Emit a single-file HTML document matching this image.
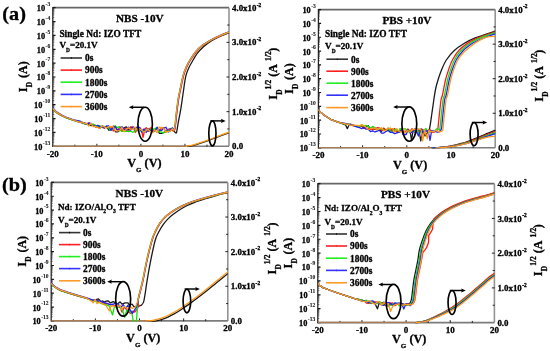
<!DOCTYPE html>
<html><head><meta charset="utf-8"><title>Figure</title>
<style>html,body{margin:0;padding:0;background:#fff;overflow:hidden}svg{display:block;filter:blur(0.4px)}text{stroke:#000;stroke-width:0.3px}</style>
</head><body>
<svg width="550" height="351" viewBox="0 0 550 351" font-family="'Liberation Serif', 'Times New Roman', serif" font-weight="bold" fill="#000">
<rect width="550" height="351" fill="#fff"/>
<defs><clipPath id="cAL"><rect x="52.8" y="4.7" width="176.2" height="142.4"/></clipPath><clipPath id="cAR"><rect x="318.4" y="6.6" width="176.8" height="142"/></clipPath><clipPath id="cBL"><rect x="51.2" y="179.4" width="176.6" height="142.3"/></clipPath><clipPath id="cBR"><rect x="317.8" y="180.7" width="176.6" height="142.7"/></clipPath></defs>
<path d="M52.8,7.7 H229" stroke="#676767" stroke-width="1.7"/>
<path d="M229,7.7 V146.3" stroke="#939393" stroke-width="1.6"/>
<path d="M52.8,146.3 H229" stroke="#7c7c7c" stroke-width="1.6"/>
<path d="M52.8,7.2 V147" stroke="#222" stroke-width="1.25"/>
<path d="M318.4,9.6 H495.2" stroke="#676767" stroke-width="1.7"/>
<path d="M495.2,9.6 V147.8" stroke="#939393" stroke-width="1.6"/>
<path d="M318.4,147.8 H495.2" stroke="#7c7c7c" stroke-width="1.6"/>
<path d="M318.4,9.1 V148.5" stroke="#222" stroke-width="1.25"/>
<path d="M51.2,182.4 H227.8" stroke="#676767" stroke-width="1.7"/>
<path d="M227.8,182.4 V320.9" stroke="#939393" stroke-width="1.6"/>
<path d="M51.2,320.9 H227.8" stroke="#7c7c7c" stroke-width="1.6"/>
<path d="M51.2,181.9 V321.6" stroke="#222" stroke-width="1.25"/>
<path d="M317.8,183.7 H494.4" stroke="#676767" stroke-width="1.7"/>
<path d="M494.4,183.7 V322.6" stroke="#939393" stroke-width="1.6"/>
<path d="M317.8,322.6 H494.4" stroke="#7c7c7c" stroke-width="1.6"/>
<path d="M317.8,183.2 V323.3" stroke="#222" stroke-width="1.25"/>
<path d="M52.8,7.7 h2.7 M52.8,21.56 h2.7 M52.8,35.42 h2.7 M52.8,49.28 h2.7 M52.8,63.14 h2.7 M52.8,77 h2.7 M52.8,90.86 h2.7 M52.8,104.72 h2.7 M52.8,118.58 h2.7 M52.8,132.44 h2.7 M52.8,146.3 h2.7" stroke="#111" stroke-width="1.2" fill="none"/>
<path d="M52.8,17.39 h1.5 M52.8,14.95 h1.5 M52.8,13.22 h1.5 M52.8,11.87 h1.5 M52.8,10.77 h1.5 M52.8,9.85 h1.5 M52.8,9.04 h1.5 M52.8,8.33 h1.5 M52.8,31.25 h1.5 M52.8,28.81 h1.5 M52.8,27.08 h1.5 M52.8,25.73 h1.5 M52.8,24.63 h1.5 M52.8,23.71 h1.5 M52.8,22.9 h1.5 M52.8,22.19 h1.5 M52.8,45.11 h1.5 M52.8,42.67 h1.5 M52.8,40.94 h1.5 M52.8,39.59 h1.5 M52.8,38.49 h1.5 M52.8,37.57 h1.5 M52.8,36.76 h1.5 M52.8,36.05 h1.5 M52.8,58.97 h1.5 M52.8,56.53 h1.5 M52.8,54.8 h1.5 M52.8,53.45 h1.5 M52.8,52.35 h1.5 M52.8,51.43 h1.5 M52.8,50.62 h1.5 M52.8,49.91 h1.5 M52.8,72.83 h1.5 M52.8,70.39 h1.5 M52.8,68.66 h1.5 M52.8,67.31 h1.5 M52.8,66.21 h1.5 M52.8,65.29 h1.5 M52.8,64.48 h1.5 M52.8,63.77 h1.5 M52.8,86.69 h1.5 M52.8,84.25 h1.5 M52.8,82.52 h1.5 M52.8,81.17 h1.5 M52.8,80.07 h1.5 M52.8,79.15 h1.5 M52.8,78.34 h1.5 M52.8,77.63 h1.5 M52.8,100.55 h1.5 M52.8,98.11 h1.5 M52.8,96.38 h1.5 M52.8,95.03 h1.5 M52.8,93.93 h1.5 M52.8,93.01 h1.5 M52.8,92.2 h1.5 M52.8,91.49 h1.5 M52.8,114.41 h1.5 M52.8,111.97 h1.5 M52.8,110.24 h1.5 M52.8,108.89 h1.5 M52.8,107.79 h1.5 M52.8,106.87 h1.5 M52.8,106.06 h1.5 M52.8,105.35 h1.5 M52.8,128.27 h1.5 M52.8,125.83 h1.5 M52.8,124.1 h1.5 M52.8,122.75 h1.5 M52.8,121.65 h1.5 M52.8,120.73 h1.5 M52.8,119.92 h1.5 M52.8,119.21 h1.5 M52.8,142.13 h1.5 M52.8,139.69 h1.5 M52.8,137.96 h1.5 M52.8,136.61 h1.5 M52.8,135.51 h1.5 M52.8,134.59 h1.5 M52.8,133.78 h1.5 M52.8,133.07 h1.5" stroke="#333" stroke-width="0.7" fill="none"/>
<path d="M229.3,128.98 h-2.0 M229.3,111.65 h-2.8 M229.3,94.33 h-2.0 M229.3,77 h-2.8 M229.3,59.67 h-2.0 M229.3,42.35 h-2.8 M229.3,25.02 h-2.0" stroke="#222" stroke-width="1.0" fill="none"/>
<path d="M74.82,146.6 v-2.0 M96.85,146.6 v-2.8 M118.87,146.6 v-2.0 M140.9,146.6 v-2.8 M162.93,146.6 v-2.0 M184.95,146.6 v-2.8 M206.97,146.6 v-2.0" stroke="#222" stroke-width="1.0" fill="none"/>
<path d="M318.4,9.6 h2.7 M318.4,23.42 h2.7 M318.4,37.24 h2.7 M318.4,51.06 h2.7 M318.4,64.88 h2.7 M318.4,78.7 h2.7 M318.4,92.52 h2.7 M318.4,106.34 h2.7 M318.4,120.16 h2.7 M318.4,133.98 h2.7 M318.4,147.8 h2.7" stroke="#111" stroke-width="1.2" fill="none"/>
<path d="M318.4,19.26 h1.5 M318.4,16.83 h1.5 M318.4,15.1 h1.5 M318.4,13.76 h1.5 M318.4,12.67 h1.5 M318.4,11.74 h1.5 M318.4,10.94 h1.5 M318.4,10.23 h1.5 M318.4,33.08 h1.5 M318.4,30.65 h1.5 M318.4,28.92 h1.5 M318.4,27.58 h1.5 M318.4,26.49 h1.5 M318.4,25.56 h1.5 M318.4,24.76 h1.5 M318.4,24.05 h1.5 M318.4,46.9 h1.5 M318.4,44.47 h1.5 M318.4,42.74 h1.5 M318.4,41.4 h1.5 M318.4,40.31 h1.5 M318.4,39.38 h1.5 M318.4,38.58 h1.5 M318.4,37.87 h1.5 M318.4,60.72 h1.5 M318.4,58.29 h1.5 M318.4,56.56 h1.5 M318.4,55.22 h1.5 M318.4,54.13 h1.5 M318.4,53.2 h1.5 M318.4,52.4 h1.5 M318.4,51.69 h1.5 M318.4,74.54 h1.5 M318.4,72.11 h1.5 M318.4,70.38 h1.5 M318.4,69.04 h1.5 M318.4,67.95 h1.5 M318.4,67.02 h1.5 M318.4,66.22 h1.5 M318.4,65.51 h1.5 M318.4,88.36 h1.5 M318.4,85.93 h1.5 M318.4,84.2 h1.5 M318.4,82.86 h1.5 M318.4,81.77 h1.5 M318.4,80.84 h1.5 M318.4,80.04 h1.5 M318.4,79.33 h1.5 M318.4,102.18 h1.5 M318.4,99.75 h1.5 M318.4,98.02 h1.5 M318.4,96.68 h1.5 M318.4,95.59 h1.5 M318.4,94.66 h1.5 M318.4,93.86 h1.5 M318.4,93.15 h1.5 M318.4,116 h1.5 M318.4,113.57 h1.5 M318.4,111.84 h1.5 M318.4,110.5 h1.5 M318.4,109.41 h1.5 M318.4,108.48 h1.5 M318.4,107.68 h1.5 M318.4,106.97 h1.5 M318.4,129.82 h1.5 M318.4,127.39 h1.5 M318.4,125.66 h1.5 M318.4,124.32 h1.5 M318.4,123.23 h1.5 M318.4,122.3 h1.5 M318.4,121.5 h1.5 M318.4,120.79 h1.5 M318.4,143.64 h1.5 M318.4,141.21 h1.5 M318.4,139.48 h1.5 M318.4,138.14 h1.5 M318.4,137.05 h1.5 M318.4,136.12 h1.5 M318.4,135.32 h1.5 M318.4,134.61 h1.5" stroke="#333" stroke-width="0.7" fill="none"/>
<path d="M495.5,130.53 h-2.0 M495.5,113.25 h-2.8 M495.5,95.98 h-2.0 M495.5,78.7 h-2.8 M495.5,61.42 h-2.0 M495.5,44.15 h-2.8 M495.5,26.88 h-2.0" stroke="#222" stroke-width="1.0" fill="none"/>
<path d="M340.5,148.1 v-2.0 M362.6,148.1 v-2.8 M384.7,148.1 v-2.0 M406.8,148.1 v-2.8 M428.9,148.1 v-2.0 M451,148.1 v-2.8 M473.1,148.1 v-2.0" stroke="#222" stroke-width="1.0" fill="none"/>
<path d="M51.2,182.4 h2.7 M51.2,196.25 h2.7 M51.2,210.1 h2.7 M51.2,223.95 h2.7 M51.2,237.8 h2.7 M51.2,251.65 h2.7 M51.2,265.5 h2.7 M51.2,279.35 h2.7 M51.2,293.2 h2.7 M51.2,307.05 h2.7 M51.2,320.9 h2.7" stroke="#111" stroke-width="1.2" fill="none"/>
<path d="M51.2,192.08 h1.5 M51.2,189.64 h1.5 M51.2,187.91 h1.5 M51.2,186.57 h1.5 M51.2,185.47 h1.5 M51.2,184.55 h1.5 M51.2,183.74 h1.5 M51.2,183.03 h1.5 M51.2,205.93 h1.5 M51.2,203.49 h1.5 M51.2,201.76 h1.5 M51.2,200.42 h1.5 M51.2,199.32 h1.5 M51.2,198.4 h1.5 M51.2,197.59 h1.5 M51.2,196.88 h1.5 M51.2,219.78 h1.5 M51.2,217.34 h1.5 M51.2,215.61 h1.5 M51.2,214.27 h1.5 M51.2,213.17 h1.5 M51.2,212.25 h1.5 M51.2,211.44 h1.5 M51.2,210.73 h1.5 M51.2,233.63 h1.5 M51.2,231.19 h1.5 M51.2,229.46 h1.5 M51.2,228.12 h1.5 M51.2,227.02 h1.5 M51.2,226.1 h1.5 M51.2,225.29 h1.5 M51.2,224.58 h1.5 M51.2,247.48 h1.5 M51.2,245.04 h1.5 M51.2,243.31 h1.5 M51.2,241.97 h1.5 M51.2,240.87 h1.5 M51.2,239.95 h1.5 M51.2,239.14 h1.5 M51.2,238.43 h1.5 M51.2,261.33 h1.5 M51.2,258.89 h1.5 M51.2,257.16 h1.5 M51.2,255.82 h1.5 M51.2,254.72 h1.5 M51.2,253.8 h1.5 M51.2,252.99 h1.5 M51.2,252.28 h1.5 M51.2,275.18 h1.5 M51.2,272.74 h1.5 M51.2,271.01 h1.5 M51.2,269.67 h1.5 M51.2,268.57 h1.5 M51.2,267.65 h1.5 M51.2,266.84 h1.5 M51.2,266.13 h1.5 M51.2,289.03 h1.5 M51.2,286.59 h1.5 M51.2,284.86 h1.5 M51.2,283.52 h1.5 M51.2,282.42 h1.5 M51.2,281.5 h1.5 M51.2,280.69 h1.5 M51.2,279.98 h1.5 M51.2,302.88 h1.5 M51.2,300.44 h1.5 M51.2,298.71 h1.5 M51.2,297.37 h1.5 M51.2,296.27 h1.5 M51.2,295.35 h1.5 M51.2,294.54 h1.5 M51.2,293.83 h1.5 M51.2,316.73 h1.5 M51.2,314.29 h1.5 M51.2,312.56 h1.5 M51.2,311.22 h1.5 M51.2,310.12 h1.5 M51.2,309.2 h1.5 M51.2,308.39 h1.5 M51.2,307.68 h1.5" stroke="#333" stroke-width="0.7" fill="none"/>
<path d="M228.1,303.59 h-2.0 M228.1,286.27 h-2.8 M228.1,268.96 h-2.0 M228.1,251.65 h-2.8 M228.1,234.34 h-2.0 M228.1,217.03 h-2.8 M228.1,199.71 h-2.0" stroke="#222" stroke-width="1.0" fill="none"/>
<path d="M73.28,321.2 v-2.0 M95.35,321.2 v-2.8 M117.43,321.2 v-2.0 M139.5,321.2 v-2.8 M161.58,321.2 v-2.0 M183.65,321.2 v-2.8 M205.73,321.2 v-2.0" stroke="#222" stroke-width="1.0" fill="none"/>
<path d="M317.8,183.7 h2.7 M317.8,197.59 h2.7 M317.8,211.48 h2.7 M317.8,225.37 h2.7 M317.8,239.26 h2.7 M317.8,253.15 h2.7 M317.8,267.04 h2.7 M317.8,280.93 h2.7 M317.8,294.82 h2.7 M317.8,308.71 h2.7 M317.8,322.6 h2.7" stroke="#111" stroke-width="1.2" fill="none"/>
<path d="M317.8,193.41 h1.5 M317.8,190.96 h1.5 M317.8,189.23 h1.5 M317.8,187.88 h1.5 M317.8,186.78 h1.5 M317.8,185.85 h1.5 M317.8,185.05 h1.5 M317.8,184.34 h1.5 M317.8,207.3 h1.5 M317.8,204.85 h1.5 M317.8,203.12 h1.5 M317.8,201.77 h1.5 M317.8,200.67 h1.5 M317.8,199.74 h1.5 M317.8,198.94 h1.5 M317.8,198.23 h1.5 M317.8,221.19 h1.5 M317.8,218.74 h1.5 M317.8,217.01 h1.5 M317.8,215.66 h1.5 M317.8,214.56 h1.5 M317.8,213.63 h1.5 M317.8,212.83 h1.5 M317.8,212.12 h1.5 M317.8,235.08 h1.5 M317.8,232.63 h1.5 M317.8,230.9 h1.5 M317.8,229.55 h1.5 M317.8,228.45 h1.5 M317.8,227.52 h1.5 M317.8,226.72 h1.5 M317.8,226.01 h1.5 M317.8,248.97 h1.5 M317.8,246.52 h1.5 M317.8,244.79 h1.5 M317.8,243.44 h1.5 M317.8,242.34 h1.5 M317.8,241.41 h1.5 M317.8,240.61 h1.5 M317.8,239.9 h1.5 M317.8,262.86 h1.5 M317.8,260.41 h1.5 M317.8,258.68 h1.5 M317.8,257.33 h1.5 M317.8,256.23 h1.5 M317.8,255.3 h1.5 M317.8,254.5 h1.5 M317.8,253.79 h1.5 M317.8,276.75 h1.5 M317.8,274.3 h1.5 M317.8,272.57 h1.5 M317.8,271.22 h1.5 M317.8,270.12 h1.5 M317.8,269.19 h1.5 M317.8,268.39 h1.5 M317.8,267.68 h1.5 M317.8,290.64 h1.5 M317.8,288.19 h1.5 M317.8,286.46 h1.5 M317.8,285.11 h1.5 M317.8,284.01 h1.5 M317.8,283.08 h1.5 M317.8,282.28 h1.5 M317.8,281.57 h1.5 M317.8,304.53 h1.5 M317.8,302.08 h1.5 M317.8,300.35 h1.5 M317.8,299 h1.5 M317.8,297.9 h1.5 M317.8,296.97 h1.5 M317.8,296.17 h1.5 M317.8,295.46 h1.5 M317.8,318.42 h1.5 M317.8,315.97 h1.5 M317.8,314.24 h1.5 M317.8,312.89 h1.5 M317.8,311.79 h1.5 M317.8,310.86 h1.5 M317.8,310.06 h1.5 M317.8,309.35 h1.5" stroke="#333" stroke-width="0.7" fill="none"/>
<path d="M494.7,305.24 h-2.0 M494.7,287.88 h-2.8 M494.7,270.51 h-2.0 M494.7,253.15 h-2.8 M494.7,235.79 h-2.0 M494.7,218.43 h-2.8 M494.7,201.06 h-2.0" stroke="#222" stroke-width="1.0" fill="none"/>
<path d="M339.88,322.9 v-2.0 M361.95,322.9 v-2.8 M384.02,322.9 v-2.0 M406.1,322.9 v-2.8 M428.17,322.9 v-2.0 M450.25,322.9 v-2.8 M472.32,322.9 v-2.0" stroke="#222" stroke-width="1.0" fill="none"/>
<g clip-path="url(#cAL)">
<path d="M52.8,146.2 H190" stroke="#a97c52" stroke-width="1.5"/>
<path d="M186,146.3 C186.67,146.18 188.5,145.93 190,145.6 C191.5,145.27 192.5,145.03 195,144.3 C197.5,143.57 201.33,142.48 205,141.2 C208.67,139.92 213,138.1 217,136.6 C221,135.1 227,132.93 229,132.2" fill="none" stroke="#1a1a1a" stroke-width="1.3" stroke-linejoin="round" stroke-linecap="round" transform="translate(0.3,0.5)"/>
<path d="M186,146.3 C186.67,146.18 188.5,145.93 190,145.6 C191.5,145.27 192.5,145.03 195,144.3 C197.5,143.57 201.33,142.48 205,141.2 C208.67,139.92 213,138.1 217,136.6 C221,135.1 227,132.93 229,132.2" fill="none" stroke="#ff9a1a" stroke-width="1.3" stroke-linejoin="round" stroke-linecap="round"/>
<path d="M52.8,108.3 L54,109.8 L56,111.9 L59.1,113.9 L62.5,115.8 L66.3,117.5 L73.4,120 L80,121.79 L82.2,122.51 L84.4,123.48 L86.6,123.63 L88.8,124.3 L91,125.13 L93.2,124.14 L95.4,125.78 L97.6,126.67 L99.8,127.67 L102,125.48 L104.2,126.55 L106.4,126.1 L108.6,129.75 L110.8,129.33 L113,125.59 L115.2,131.41 L117.4,131.49 L119.6,129.8 L121.8,129.75 L124,127.16 L126.2,126.37 L128.4,129.52 L130.6,126.77 L132.8,127.62 L135,128 L137.2,126.8 L139.4,129.47 L141.6,129.36 L143.8,131.79 L146,129.87 L148.2,130.62 L150.4,129.8 L152.6,130.8 L154.8,129.59 L157,128.54 L159.2,132.88 L161.4,132.88 L163.6,131.96 L165.8,131.18 L168,128.84 L170.2,128.34 L172.4,128.71 L172.4,128.71 C172.93,129.34 174.9,132.2 175.6,132.5 C176.3,132.8 176.17,132.42 176.6,130.5 C177.03,128.58 177.55,124.58 178.2,121 C178.85,117.42 179.7,113.83 180.5,109 C181.3,104.17 182.17,97.5 183,92 C183.83,86.5 184.58,80.08 185.5,76 C186.42,71.92 187.42,70 188.5,67.5 C189.58,65 190.58,63.42 192,61 C193.42,58.58 195.17,55.42 197,53 C198.83,50.58 200.67,48.6 203,46.5 C205.33,44.4 208.17,42.18 211,40.4 C213.83,38.62 217,37.18 220,35.8 C223,34.42 227.5,32.72 229,32.1" fill="none" stroke="#1a1a1a" stroke-width="1.3" stroke-linejoin="round" stroke-linecap="round" transform="translate(0.24,0.48)"/>
<path d="M52.8,108.3 L54,109.8 L56,111.9 L59.1,113.9 L62.5,115.8 L66.3,117.5 L73.4,120 L80,121.82 L82.2,122.61 L84.4,123.23 L86.6,123.31 L88.8,122.51 L91,124.36 L93.2,124.46 L95.4,126.86 L97.6,126.89 L99.8,126.98 L102,127.15 L104.2,127.84 L106.4,126.3 L108.6,127.54 L110.8,126.14 L113,130.78 L115.2,125.87 L117.4,130.61 L119.6,126.32 L121.8,130.18 L124,128.23 L126.2,128.71 L128.4,131.4 L130.6,126.53 L132.8,126.85 L135,132.04 L137.2,129.67 L139.4,127.23 L141.2,129.5 L142.8,137 L144.4,129.5 L146,127.44 L148.2,129.32 L150.4,127.61 L152.6,128.7 L154.8,130.58 L157,127.85 L159.2,131.07 L161.4,127.22 L163.6,127.95 L165.8,131.83 L168,129.35 L170.2,129.48 L172.4,130.55 L172.4,130.55 C172.73,130.46 173.9,131.09 174.4,130 C174.9,128.91 175.02,127 175.4,124 C175.78,121 176.2,116.17 176.7,112 C177.2,107.83 177.82,102.67 178.4,99 C178.98,95.33 179.35,94 180.2,90 C181.05,86 182.42,78.92 183.5,75 C184.58,71.08 185.58,69 186.7,66.5 C187.82,64 188.7,62.42 190.2,60 C191.7,57.58 193.7,54.4 195.7,52 C197.7,49.6 199.62,47.6 202.2,45.6 C204.78,43.6 208.2,41.67 211.2,40 C214.2,38.33 217.2,36.93 220.2,35.6 C223.2,34.27 227.7,32.6 229.2,32" fill="none" stroke="#ff1a1a" stroke-width="1.3" stroke-linejoin="round" stroke-linecap="round" transform="translate(0.24,0.24)"/>
<path d="M52.8,108.3 L54,109.8 L56,111.9 L59.1,113.9 L62.5,115.8 L66.3,117.5 L73.4,120 L80,121.6 L82.2,122.64 L84.4,123.24 L86.6,124.01 L88.8,123.14 L91,123.84 L93.2,124.01 L95.4,124.75 L97.6,127.05 L99.8,125.29 L102,127.05 L104.2,126.23 L106.4,126.84 L108.6,127.49 L110.8,130.19 L113,128.99 L115.2,125.61 L117.4,127.35 L119.6,126.76 L121.8,131.28 L124,131.07 L126.2,131.12 L128.4,131.3 L130.6,130.88 L132.8,132.18 L135,131.31 L137.2,128.15 L139.4,131.78 L141.6,129.64 L143.8,131.27 L146,130.14 L148.2,129.36 L150.4,128.99 L152.6,129.4 L154.8,128.73 L157,127.57 L159.2,131.81 L161.4,131.7 L163.6,132.84 L165.8,131.08 L168,130.28 L170.2,131.45 L172.4,127.79 L172.4,127.79 C172.72,128.16 173.82,130.63 174.3,130 C174.78,129.37 174.92,127 175.3,124 C175.68,121 176.1,116.17 176.6,112 C177.1,107.83 177.72,102.67 178.3,99 C178.88,95.33 179.25,94 180.1,90 C180.95,86 182.32,78.92 183.4,75 C184.48,71.08 185.48,69 186.6,66.5 C187.72,64 188.6,62.42 190.1,60 C191.6,57.58 193.6,54.4 195.6,52 C197.6,49.6 199.52,47.6 202.1,45.6 C204.68,43.6 208.1,41.67 211.1,40 C214.1,38.33 217.1,36.93 220.1,35.6 C223.1,34.27 227.6,32.6 229.1,32" fill="none" stroke="#11e011" stroke-width="1.3" stroke-linejoin="round" stroke-linecap="round" transform="translate(-0.24,0.12)"/>
<path d="M52.8,108.3 L54,109.8 L56,111.9 L59.1,113.9 L62.5,115.8 L66.3,117.5 L73.4,120 L80,121.45 L82.2,122.66 L84.4,123.21 L86.6,124.11 L88.8,123.45 L91,123.93 L93.2,126.12 L95.4,126.31 L97.6,125.5 L99.8,127.28 L102,126.56 L104.2,128.26 L106.4,126.2 L108.6,126.24 L110.8,130.57 L113,127.49 L115.2,127.08 L117.4,130.52 L119.6,129.67 L121.8,126.95 L124,129.52 L126.2,130.26 L128.4,127.34 L130.6,130.32 L132.8,127.22 L135,128.57 L137.2,127.11 L139.4,127.91 L141.6,132.58 L143.8,129.16 L146,132.7 L148.2,129.41 L150.4,130.45 L152.6,132.06 L154.8,130.97 L157,127.54 L159.2,130.43 L161.4,130.71 L163.6,128.01 L165.8,127.5 L168,132.2 L170.2,130.05 L172.4,128.14 L172.4,128.14 C172.7,128.45 173.73,130.69 174.2,130 C174.67,129.31 174.82,127 175.2,124 C175.58,121 176,116.17 176.5,112 C177,107.83 177.62,102.67 178.2,99 C178.78,95.33 179.15,94 180,90 C180.85,86 182.22,78.92 183.3,75 C184.38,71.08 185.38,69 186.5,66.5 C187.62,64 188.5,62.42 190,60 C191.5,57.58 193.5,54.4 195.5,52 C197.5,49.6 199.42,47.6 202,45.6 C204.58,43.6 208,41.67 211,40 C214,38.33 217,36.93 220,35.6 C223,34.27 227.5,32.6 229,32" fill="none" stroke="#2222ff" stroke-width="1.3" stroke-linejoin="round" stroke-linecap="round" transform="translate(0.2,-0.24)"/>
<path d="M52.8,108.3 L54,109.8 L56,111.9 L59.1,113.9 L62.5,115.8 L66.3,117.5 L73.4,120 L80,122.31 L82.2,121.97 L84.4,123.3 L86.6,123.32 L88.8,126.02 L91,123.07 L93.2,126.64 L95.4,126.39 L97.6,127.49 L99.8,128.42 L102,126 L104.2,126.67 L106.4,128.33 L108.6,126.58 L110.8,126.74 L113,126.71 L115.2,130.67 L117.4,130.95 L119.6,130.66 L121.8,127.39 L124,131.76 L126.2,129.35 L128.4,127.73 L130.6,129.15 L132.8,129 L135,127.02 L137.2,130 L139.4,128.84 L141.6,130.13 L143.8,132.32 L146,130.63 L148.2,129.21 L150.4,131.99 L152.6,132.8 L154.8,129.79 L157,132.54 L159.2,127 L161.4,127.75 L163.6,127.96 L165.8,132.56 L168,131.09 L170.2,131.28 L172.4,128.7 L172.4,128.7 C172.7,128.91 173.73,130.78 174.2,130 C174.67,129.22 174.82,127 175.2,124 C175.58,121 176,116.17 176.5,112 C177,107.83 177.62,102.67 178.2,99 C178.78,95.33 179.15,94 180,90 C180.85,86 182.22,78.92 183.3,75 C184.38,71.08 185.38,69 186.5,66.5 C187.62,64 188.5,62.42 190,60 C191.5,57.58 193.5,54.4 195.5,52 C197.5,49.6 199.42,47.6 202,45.6 C204.58,43.6 208,41.67 211,40 C214,38.33 217,36.93 220,35.6 C223,34.27 227.5,32.6 229,32" fill="none" stroke="#ff9a1a" stroke-width="1.3" stroke-linejoin="round" stroke-linecap="round"/>
</g>
<g clip-path="url(#cAR)">
<path d="M318.4,147.7 H445" stroke="#a97c52" stroke-width="1.5"/>
<path d="M432,147.8 C432.75,147.78 435.05,147.77 436.5,147.7 C437.95,147.63 438.93,147.58 440.7,147.4 C442.47,147.22 444.97,146.93 447.1,146.6 C449.23,146.27 451.38,145.87 453.5,145.4 C455.62,144.93 457.68,144.37 459.8,143.8 C461.92,143.23 464.08,142.7 466.2,142 C468.32,141.3 470.38,140.42 472.5,139.6 C474.62,138.78 476.77,137.98 478.9,137.1 C481.03,136.22 482.58,135.42 485.3,134.3 C488.02,133.18 493.55,131.05 495.2,130.4" fill="none" stroke="#1a1a1a" stroke-width="1.3" stroke-linejoin="round" stroke-linecap="round"/>
<path d="M432.3,147.8 C433.05,147.78 435.35,147.76 436.8,147.7 C438.25,147.64 439.23,147.57 441,147.41 C442.77,147.25 445.27,147.02 447.4,146.73 C449.53,146.43 451.68,146.07 453.8,145.65 C455.92,145.22 457.98,144.69 460.1,144.16 C462.22,143.63 464.38,143.14 466.5,142.48 C468.62,141.81 470.68,140.97 472.8,140.19 C474.92,139.41 477.07,138.65 479.2,137.81 C481.33,136.96 482.88,136.19 485.6,135.12 C488.32,134.06 493.85,132.02 495.5,131.4" fill="none" stroke="#ff1a1a" stroke-width="1.3" stroke-linejoin="round" stroke-linecap="round"/>
<path d="M432.54,147.8 C433.29,147.78 435.59,147.76 437.04,147.7 C438.49,147.64 439.47,147.57 441.24,147.43 C443.01,147.29 445.51,147.11 447.64,146.86 C449.77,146.6 451.92,146.28 454.04,145.89 C456.16,145.5 458.22,145.01 460.34,144.52 C462.46,144.03 464.62,143.58 466.74,142.95 C468.86,142.33 470.92,141.52 473.04,140.78 C475.16,140.04 477.31,139.32 479.44,138.51 C481.57,137.71 483.12,136.97 485.84,135.95 C488.56,134.93 494.09,133 495.74,132.41" fill="none" stroke="#11e011" stroke-width="1.3" stroke-linejoin="round" stroke-linecap="round"/>
<path d="M432.78,147.8 C433.53,147.78 435.83,147.76 437.28,147.7 C438.73,147.64 439.71,147.56 441.48,147.44 C443.25,147.32 445.75,147.2 447.88,146.97 C450.01,146.75 452.16,146.47 454.28,146.11 C456.4,145.76 458.46,145.3 460.58,144.84 C462.7,144.39 464.86,143.97 466.98,143.38 C469.1,142.79 471.16,142.02 473.28,141.31 C475.4,140.61 477.55,139.92 479.68,139.15 C481.81,138.38 483.36,137.66 486.08,136.69 C488.8,135.72 494.33,133.87 495.98,133.31" fill="none" stroke="#2222ff" stroke-width="1.3" stroke-linejoin="round" stroke-linecap="round"/>
<path d="M436,147.8 C437,147.77 440.15,147.72 442,147.6 C443.85,147.48 445.18,147.3 447.1,147.1 C449.02,146.9 451.38,146.72 453.5,146.4 C455.62,146.08 457.68,145.67 459.8,145.2 C461.92,144.73 464.08,144.2 466.2,143.6 C468.32,143 470.8,142.15 472.5,141.6 C474.2,141.05 474.7,140.83 476.4,140.3 C478.1,139.77 480.6,138.97 482.7,138.4 C484.8,137.83 486.92,137.23 489,136.9 C491.08,136.57 494.17,136.48 495.2,136.4" fill="none" stroke="#ff9a1a" stroke-width="1.3" stroke-linejoin="round" stroke-linecap="round"/>
<path d="M318.4,109.9 L321,112.6 L324.5,115.5 L330.6,119.3 L338,122.2 L345.6,125 L347.3,128.6 L349,125 L350.7,124.32 L352.9,124.97 L355.1,126.12 L357.3,126.09 L359.5,125.78 L361.7,125.95 L363.9,128.44 L366.1,127.05 L368.3,125.76 L370.5,129.6 L372.7,126.9 L374.9,129.32 L377.1,129.59 L379.3,129.16 L381.5,131.32 L383.7,128.33 L385.9,130.19 L388.1,128.38 L390.3,131.94 L392.5,128.81 L394.7,130.43 L396.9,131.75 L399.1,131.97 L401.3,128.85 L403.5,131.99 L405.7,131.88 L407.9,129.79 L410.2,131.5 L411.5,140.3 L413,131 L414.5,129.21 L416.7,129.26 L418.9,129.86 L420.8,141 L422.4,130.5 L425,136 L427.7,132.26 L427.7,132.26 C428.02,131.62 428.92,131.44 429.6,128.4 C430.28,125.36 431.1,118.73 431.8,114 C432.5,109.27 433.17,104.17 433.8,100 C434.43,95.83 434.9,92.33 435.6,89 C436.3,85.67 437.02,83.17 438,80 C438.98,76.83 440.12,73.33 441.5,70 C442.88,66.67 444.17,63.25 446.3,60 C448.43,56.75 451.28,53.28 454.3,50.5 C457.32,47.72 461.02,45.35 464.4,43.3 C467.78,41.25 471.2,39.63 474.6,38.2 C478,36.77 481.37,35.87 484.8,34.7 C488.23,33.53 493.47,31.78 495.2,31.2" fill="none" stroke="#1a1a1a" stroke-width="1.3" stroke-linejoin="round" stroke-linecap="round"/>
<path d="M318.4,109.9 L321,112.6 L324.5,115.5 L330.6,119.3 L338,122.2 L346.3,124.06 L348.5,124.22 L350.7,124.48 L352.9,125.73 L355.1,125.66 L357.3,126.12 L359.5,126.29 L361.7,126.09 L363.9,127.84 L366.1,127.59 L368.3,128.77 L370.5,128.66 L372.7,129.74 L374.9,128.51 L377.1,127.74 L379.3,127.92 L381.5,130.36 L383.7,128.29 L385.9,130.39 L388.1,130.41 L390.3,128.31 L392.5,131.36 L394.7,128.51 L396.9,131.89 L399.1,131.81 L401.3,129.33 L403.5,131.39 L405.7,131.44 L407.9,129.03 L410.1,131.23 L412,128.6 L414.5,132.25 L416.7,131.37 L418.9,132.55 L421.1,128.85 L423.3,129.93 L424.5,133.5 L425.5,131.15 L427.7,131.12 L429.9,129.43 L432.1,132.27 L434.3,132.11 L436.5,129.95 L436.5,129.95 C436.72,129.79 437.42,130.66 437.8,129 C438.18,127.34 438.27,124.83 438.8,120 C439.33,115.17 440.38,104.17 441,100 C441.62,95.83 441.75,98.33 442.5,95 C443.25,91.67 444.5,84.17 445.5,80 C446.5,75.83 447.35,73.33 448.5,70 C449.65,66.67 450.68,63.25 452.4,60 C454.12,56.75 456.37,53.23 458.8,50.5 C461.23,47.77 464.13,45.58 467,43.6 C469.87,41.62 472.92,40.03 476,38.6 C479.08,37.17 482.3,36.13 485.5,35 C488.7,33.87 493.58,32.33 495.2,31.8" fill="none" stroke="#ff1a1a" stroke-width="1.3" stroke-linejoin="round" stroke-linecap="round"/>
<path d="M318.4,109.9 L321,112.6 L324.5,115.5 L330.6,119.3 L338,122.2 L346.3,124.37 L348.5,123.97 L350.7,124.62 L352.9,124.9 L355.1,125.85 L357.3,126.11 L359.5,126.7 L361.7,124.9 L363.9,126.6 L366.1,125.4 L368.3,126.52 L370.5,128.04 L372.7,126.49 L374.9,127.55 L377.1,129.72 L379.3,129.5 L381.5,128.35 L383.7,129.98 L385.9,131.01 L388.1,127.95 L390.3,131.3 L392.5,131.02 L394.7,129.74 L396.9,129.04 L399.1,132.27 L400,128.5 L401.3,129.81 L403.5,128.86 L405.7,128.89 L407.9,131.92 L410.1,130.97 L412.3,131.8 L414.5,131.51 L417.2,129 L419,135 L421,129.5 L423.3,130.86 L426,128.6 L427.7,131.16 L429.9,132.15 L432.1,131.02 L434.3,131.55 L436.5,128.93 L438.7,129.67 L438.7,129.67 C438.88,129.56 439.45,130.61 439.8,129 C440.15,127.39 440.27,124.83 440.8,120 C441.33,115.17 442.38,104.17 443,100 C443.62,95.83 443.75,98.33 444.5,95 C445.25,91.67 446.5,84.17 447.5,80 C448.5,75.83 449.35,73.33 450.5,70 C451.65,66.67 452.72,63.17 454.4,60 C456.08,56.83 458.23,53.63 460.6,51 C462.97,48.37 465.8,46.17 468.6,44.2 C471.4,42.23 474.42,40.63 477.4,39.2 C480.38,37.77 483.53,36.7 486.5,35.6 C489.47,34.5 493.75,33.1 495.2,32.6" fill="none" stroke="#11e011" stroke-width="1.3" stroke-linejoin="round" stroke-linecap="round"/>
<path d="M318.4,109.9 L321,112.6 L324.5,115.5 L330.6,119.3 L338,122.2 L346.3,123.65 L348.5,124.78 L350.7,124.46 L352.9,125.18 L355.1,126.07 L357.3,127.15 L359.5,127.68 L361.7,128.67 L363.9,127.19 L366.1,129.21 L368.3,129.34 L370.5,131.63 L372.7,130.77 L374.9,131.97 L377.1,131.05 L379.3,130.22 L381.5,133.07 L383.7,133.1 L385.9,131.48 L388.1,130.51 L390.3,132.33 L392.5,132.41 L394.7,133.67 L396.9,132.8 L399.1,132.22 L401.5,130 L403,134.5 L406.2,134.5 L407.8,130 L410.1,132.86 L412.3,132.23 L414.5,129.83 L416.7,132.17 L418.5,136 L421.1,129.05 L423.3,132.08 L425.5,131.01 L428.2,131 L430,140.3 L431.6,131 L434.3,131.22 L436.5,131.89 L438.7,132.35 L438.7,132.35 C439.15,131.79 440.78,131.06 441.4,129 C442.02,126.94 441.87,124.83 442.4,120 C442.93,115.17 443.97,104.17 444.6,100 C445.23,95.83 445.43,98.33 446.2,95 C446.97,91.67 448.2,84.17 449.2,80 C450.2,75.83 451.03,73.33 452.2,70 C453.37,66.67 454.5,63.08 456.2,60 C457.9,56.92 460.07,54.03 462.4,51.5 C464.73,48.97 467.47,46.72 470.2,44.8 C472.93,42.88 475.92,41.38 478.8,40 C481.68,38.62 484.77,37.53 487.5,36.5 C490.23,35.47 493.92,34.25 495.2,33.8" fill="none" stroke="#2222ff" stroke-width="1.3" stroke-linejoin="round" stroke-linecap="round"/>
<path d="M318.4,109.9 L321,112.6 L324.5,115.5 L330.6,119.3 L338,122.2 L346.3,124.09 L348.5,124.59 L350.7,125.32 L352.9,124.84 L355.1,125.24 L357.3,125.33 L359.5,125.76 L361.7,124.59 L363.9,125.54 L366.1,127.34 L368.3,129.61 L370.5,128.79 L372.7,127.9 L374.9,128.37 L377.1,129.88 L379.3,128.62 L381.5,127.76 L383.7,130.99 L385.9,130.24 L388.1,128.37 L390.3,128.36 L392.5,128.61 L394.7,132.22 L396.9,128.85 L399.1,130.94 L401.3,132.34 L403.5,128.63 L405,133 L407.9,130.44 L410.1,132.22 L412.3,129.33 L414.5,129.63 L416.7,129.6 L418.9,128.82 L421.2,130 L422.7,141 L424.6,130 L427.3,138.8 L428.8,130.5 L429.9,131.55 L432.1,131.66 L434.3,131.34 L436.5,130.06 L438.7,132.08 L440.9,131.29 L440.9,131.29 C441.22,131.08 442.32,131.88 442.8,130 C443.28,128.12 443.27,125 443.8,120 C444.33,115 445.37,104.17 446,100 C446.63,95.83 446.83,98.33 447.6,95 C448.37,91.67 449.6,84.17 450.6,80 C451.6,75.83 452.4,73.33 453.6,70 C454.8,66.67 456.07,63 457.8,60 C459.53,57 461.67,54.43 464,52 C466.33,49.57 469.3,47.3 471.8,45.4 C474.3,43.5 476.8,41.9 479,40.6 C481.2,39.3 483.17,38.27 485,37.6 C486.83,36.93 488.3,36.82 490,36.6 C491.7,36.38 494.33,36.35 495.2,36.3" fill="none" stroke="#ff9a1a" stroke-width="1.3" stroke-linejoin="round" stroke-linecap="round"/>
</g>
<g clip-path="url(#cBL)">
<path d="M51.2,320.8 H153" stroke="#a97c52" stroke-width="1.5"/>
<path d="M146.5,320.9 C147.02,320.88 148.52,320.9 149.6,320.8 C150.68,320.7 151.87,320.52 153,320.3 C154.13,320.08 154.88,319.92 156.4,319.5 C157.92,319.08 160.2,318.47 162.1,317.8 C164,317.13 165.9,316.37 167.8,315.5 C169.7,314.63 171.6,313.65 173.5,312.6 C175.4,311.55 177.3,310.42 179.2,309.2 C181.1,307.98 183,306.62 184.9,305.3 C186.8,303.98 188.67,302.68 190.6,301.3 C192.53,299.92 194.6,298.42 196.5,297 C198.4,295.58 200.08,294.3 202,292.8 C203.92,291.3 206,289.62 208,288 C210,286.38 212,284.73 214,283.1 C216,281.47 217.7,280.07 220,278.2 C222.3,276.33 226.5,272.95 227.8,271.9" fill="none" stroke="#1a1a1a" stroke-width="1.3" stroke-linejoin="round" stroke-linecap="round" transform="translate(0.6,1.3)"/>
<path d="M146.5,320.9 C147.02,320.88 148.52,320.9 149.6,320.8 C150.68,320.7 151.87,320.52 153,320.3 C154.13,320.08 154.88,319.92 156.4,319.5 C157.92,319.08 160.2,318.47 162.1,317.8 C164,317.13 165.9,316.37 167.8,315.5 C169.7,314.63 171.6,313.65 173.5,312.6 C175.4,311.55 177.3,310.42 179.2,309.2 C181.1,307.98 183,306.62 184.9,305.3 C186.8,303.98 188.67,302.68 190.6,301.3 C192.53,299.92 194.6,298.42 196.5,297 C198.4,295.58 200.08,294.3 202,292.8 C203.92,291.3 206,289.62 208,288 C210,286.38 212,284.73 214,283.1 C216,281.47 217.7,280.07 220,278.2 C222.3,276.33 226.5,272.95 227.8,271.9" fill="none" stroke="#ff9a1a" stroke-width="1.3" stroke-linejoin="round" stroke-linecap="round"/>
<path d="M51.2,283.6 L53.5,285.8 L56,287.6 L60,289.9 L68.2,292.7 L78,295.6 L86.4,298 L92,299.6 L94.4,299.4 L96.5,298.8 L98.3,298.5 L100.8,301.1 L102.5,300.5 L104.2,301.5 L106,300.6 L107.7,300.3 L110.2,302.4 L113.2,301.1 L115.4,302.8 L117.5,303.2 L119.9,301.4 L121.7,303.7 L124.9,302.3 L127.7,302.3 L129,304.6 L131.8,303.7 L133.6,306 L136.8,306.6 L139.1,305.5 L141.3,304.6 L141.3,304.6 C141.62,304.15 142.72,303.08 143.2,301.9 C143.68,300.72 143.83,299.48 144.2,297.5 C144.57,295.52 144.95,292.95 145.4,290 C145.85,287.05 146.05,284.82 146.9,279.8 C147.75,274.78 149.17,266.53 150.5,259.9 C151.83,253.27 153.57,244.73 154.9,240 C156.23,235.27 157.25,234.03 158.5,231.5 C159.75,228.97 160.9,226.95 162.4,224.8 C163.9,222.65 165.73,220.43 167.5,218.6 C169.27,216.77 171,215.37 173,213.8 C175,212.23 177.17,210.67 179.5,209.2 C181.83,207.73 184.42,206.27 187,205 C189.58,203.73 192.08,202.68 195,201.6 C197.92,200.52 201.17,199.53 204.5,198.5 C207.83,197.47 211.12,196.47 215,195.4 C218.88,194.33 225.67,192.65 227.8,192.1" fill="none" stroke="#1a1a1a" stroke-width="1.3" stroke-linejoin="round" stroke-linecap="round" transform="translate(0.24,0.48)"/>
<path d="M51.2,283.6 L53.5,285.8 L56,287.6 L60,289.9 L68.2,292.7 L78,295.6 L86.4,298 L92,300.4 L95,300.8 L98,301.5 L101,302.2 L104,303 L107,303.6 L110,304.2 L113,305 L115,305.2 L117.2,306 L119.5,305 L121.7,311.9 L124,306.9 L126.8,309.6 L130,313.2 L132.2,311 L134.5,311.9 L137.2,308.5 L138.4,305 L138.4,305 C138.33,304.13 137.67,302.3 138,299.8 C138.33,297.3 139.58,293.33 140.4,290 C141.22,286.67 141.82,284.82 142.9,279.8 C143.98,274.78 145.4,266.53 146.9,259.9 C148.4,253.27 150.47,244.82 151.9,240 C153.33,235.18 154.22,233.73 155.5,231 C156.78,228.27 158.1,225.83 159.6,223.6 C161.1,221.37 162.65,219.43 164.5,217.6 C166.35,215.77 168.53,214.17 170.7,212.6 C172.87,211.03 175.02,209.58 177.5,208.2 C179.98,206.82 182.85,205.47 185.6,204.3 C188.35,203.13 190.93,202.22 194,201.2 C197.07,200.18 200.5,199.2 204,198.2 C207.5,197.2 211.03,196.23 215,195.2 C218.97,194.17 225.67,192.53 227.8,192" fill="none" stroke="#ff1a1a" stroke-width="1.3" stroke-linejoin="round" stroke-linecap="round" transform="translate(0.24,0.24)"/>
<path d="M51.2,283.6 L53.5,285.8 L56,287.6 L60,289.9 L68.2,292.7 L78,295.6 L86.4,298 L92,300.5 L95,301 L98.3,302 L101,303 L103.4,304.1 L106,304.5 L109.4,305.8 L112.8,314.8 L114.5,307.1 L117,306 L120,307.5 L122.5,309 L124.9,317.3 L127,310 L130.4,311.4 L132.2,313.7 L134.6,326 L136.4,326 L137.7,305.5 L138.5,300.5 L138.5,300.5 C138.42,300.38 137.68,301.55 138,299.8 C138.32,298.05 139.58,293.33 140.4,290 C141.22,286.67 141.82,284.82 142.9,279.8 C143.98,274.78 145.4,266.53 146.9,259.9 C148.4,253.27 150.47,244.82 151.9,240 C153.33,235.18 154.22,233.73 155.5,231 C156.78,228.27 158.1,225.83 159.6,223.6 C161.1,221.37 162.65,219.43 164.5,217.6 C166.35,215.77 168.53,214.17 170.7,212.6 C172.87,211.03 175.02,209.58 177.5,208.2 C179.98,206.82 182.85,205.47 185.6,204.3 C188.35,203.13 190.93,202.22 194,201.2 C197.07,200.18 200.5,199.2 204,198.2 C207.5,197.2 211.03,196.23 215,195.2 C218.97,194.17 225.67,192.53 227.8,192" fill="none" stroke="#11e011" stroke-width="1.3" stroke-linejoin="round" stroke-linecap="round" transform="translate(-0.24,0.12)"/>
<path d="M51.2,283.6 L53.5,285.8 L56,287.6 L60,289.9 L68.2,292.7 L78,295.6 L86.4,298 L92,300.2 L95,300.5 L98,301 L101,301.8 L104,302.8 L107,303.5 L110,305 L113,304.5 L114.8,303.5 L117.6,304.1 L120.4,307.8 L123.1,305 L125.4,308.7 L127.7,305.5 L130,310 L132.2,313.7 L133.6,311.4 L135.9,307.8 L137.6,303 L137.6,303 C137.67,302.47 137.53,301.97 138,299.8 C138.47,297.63 139.58,293.33 140.4,290 C141.22,286.67 141.82,284.82 142.9,279.8 C143.98,274.78 145.4,266.53 146.9,259.9 C148.4,253.27 150.47,244.82 151.9,240 C153.33,235.18 154.22,233.73 155.5,231 C156.78,228.27 158.1,225.83 159.6,223.6 C161.1,221.37 162.65,219.43 164.5,217.6 C166.35,215.77 168.53,214.17 170.7,212.6 C172.87,211.03 175.02,209.58 177.5,208.2 C179.98,206.82 182.85,205.47 185.6,204.3 C188.35,203.13 190.93,202.22 194,201.2 C197.07,200.18 200.5,199.2 204,198.2 C207.5,197.2 211.03,196.23 215,195.2 C218.97,194.17 225.67,192.53 227.8,192" fill="none" stroke="#2222ff" stroke-width="1.3" stroke-linejoin="round" stroke-linecap="round" transform="translate(0.2,-0.24)"/>
<path d="M51.2,283.6 L53.5,285.8 L56,287.6 L60,289.9 L68.2,292.7 L78,295.6 L86.4,298 L92,301.5 L93.1,302.8 L95.3,299.4 L97,303.7 L99.5,302 L103,304.1 L106,305.5 L109.4,310.9 L111.1,305.8 L114,306 L117,307.5 L119.5,305 L121.7,309.6 L124,306.5 L127,308.5 L130,306.5 L132.5,308.5 L135.6,306.8 L137.2,302.5 L137.2,302.5 C137.33,302.05 137.47,301.88 138,299.8 C138.53,297.72 139.58,293.33 140.4,290 C141.22,286.67 141.82,284.82 142.9,279.8 C143.98,274.78 145.4,266.53 146.9,259.9 C148.4,253.27 150.47,244.82 151.9,240 C153.33,235.18 154.22,233.73 155.5,231 C156.78,228.27 158.1,225.83 159.6,223.6 C161.1,221.37 162.65,219.43 164.5,217.6 C166.35,215.77 168.53,214.17 170.7,212.6 C172.87,211.03 175.02,209.58 177.5,208.2 C179.98,206.82 182.85,205.47 185.6,204.3 C188.35,203.13 190.93,202.22 194,201.2 C197.07,200.18 200.5,199.2 204,198.2 C207.5,197.2 211.03,196.23 215,195.2 C218.97,194.17 225.67,192.53 227.8,192" fill="none" stroke="#ff9a1a" stroke-width="1.3" stroke-linejoin="round" stroke-linecap="round"/>
</g>
<g clip-path="url(#cBR)">
<path d="M317.8,322.5 H421" stroke="#a97c52" stroke-width="1.5"/>
<path d="M416,322.6 C416.78,322.52 418.97,322.44 420.7,322.12 C422.43,321.8 424.5,321.28 426.4,320.68 C428.3,320.08 430.2,319.32 432.1,318.53 C434,317.75 435.9,316.86 437.8,315.99 C439.7,315.13 441.6,314.28 443.5,313.35 C445.4,312.42 447.3,311.45 449.2,310.4 C451.1,309.36 453,308.29 454.9,307.06 C456.8,305.83 458.7,304.44 460.6,303 C462.5,301.56 464.4,299.95 466.3,298.4 C468.2,296.85 470.05,295.35 472,293.7 C473.95,292.05 476,290.23 478,288.5 C480,286.77 482.17,284.9 484,283.3 C485.83,281.7 487.27,280.25 489,278.9 C490.73,277.55 493.5,275.82 494.4,275.2" fill="none" stroke="#1a1a1a" stroke-width="1.3" stroke-linejoin="round" stroke-linecap="round"/>
<path d="M416,322.6 C416.78,322.5 418.97,322.38 420.7,322 C422.43,321.62 424.5,320.98 426.4,320.3 C428.3,319.62 430.2,318.77 432.1,317.9 C434,317.03 435.9,316.05 437.8,315.1 C439.7,314.15 441.6,313.22 443.5,312.2 C445.4,311.18 447.3,310.13 449.2,309 C451.1,307.87 453,306.7 454.9,305.4 C456.8,304.1 458.7,302.67 460.6,301.2 C462.5,299.73 464.4,298.15 466.3,296.6 C468.2,295.05 470.05,293.55 472,291.9 C473.95,290.25 476,288.43 478,286.7 C480,284.97 482.17,283.1 484,281.5 C485.83,279.9 487.27,278.45 489,277.1 C490.73,275.75 493.5,274.02 494.4,273.4" fill="none" stroke="#ff1a1a" stroke-width="1.3" stroke-linejoin="round" stroke-linecap="round"/>
<path d="M416,322.6 C416.78,322.51 418.97,322.43 420.7,322.09 C422.43,321.75 424.5,321.19 426.4,320.57 C428.3,319.95 430.2,319.16 432.1,318.36 C434,317.55 435.9,316.63 437.8,315.74 C439.7,314.86 441.6,313.98 443.5,313.03 C445.4,312.07 447.3,311.09 449.2,310.01 C451.1,308.94 453,307.85 454.9,306.6 C456.8,305.35 458.7,303.95 460.6,302.5 C462.5,301.05 464.4,299.45 466.3,297.9 C468.2,296.35 470.05,294.85 472,293.2 C473.95,291.55 476,289.73 478,288 C480,286.27 482.17,284.4 484,282.8 C485.83,281.2 487.27,279.75 489,278.4 C490.73,277.05 493.5,275.32 494.4,274.7" fill="none" stroke="#11e011" stroke-width="1.3" stroke-linejoin="round" stroke-linecap="round"/>
<path d="M416,322.6 C416.78,322.53 418.97,322.46 420.7,322.16 C422.43,321.86 424.5,321.37 426.4,320.8 C428.3,320.23 430.2,319.5 432.1,318.75 C434,317.99 435.9,317.12 437.8,316.29 C439.7,315.45 441.6,314.63 443.5,313.73 C445.4,312.83 447.3,311.89 449.2,310.87 C451.1,309.85 453,308.83 454.9,307.61 C456.8,306.4 458.7,305.04 460.6,303.6 C462.5,302.16 464.4,300.55 466.3,299 C468.2,297.45 470.05,295.95 472,294.3 C473.95,292.65 476,290.83 478,289.1 C480,287.37 482.17,285.5 484,283.9 C485.83,282.3 487.27,280.85 489,279.5 C490.73,278.15 493.5,276.42 494.4,275.8" fill="none" stroke="#2222ff" stroke-width="1.3" stroke-linejoin="round" stroke-linecap="round"/>
<path d="M416,322.6 C416.78,322.54 418.97,322.49 420.7,322.23 C422.43,321.97 424.5,321.54 426.4,321.01 C428.3,320.49 430.2,319.8 432.1,319.1 C434,318.39 435.9,317.57 437.8,316.78 C439.7,315.99 441.6,315.22 443.5,314.37 C445.4,313.51 447.3,312.62 449.2,311.65 C451.1,310.68 453,309.71 454.9,308.54 C456.8,307.36 458.7,306.02 460.6,304.6 C462.5,303.18 464.4,301.55 466.3,300 C468.2,298.45 470.05,296.95 472,295.3 C473.95,293.65 476,291.83 478,290.1 C480,288.37 482.17,286.5 484,284.9 C485.83,283.3 487.27,281.85 489,280.5 C490.73,279.15 493.5,277.42 494.4,276.8" fill="none" stroke="#ff9a1a" stroke-width="1.3" stroke-linejoin="round" stroke-linecap="round"/>
<path d="M317.8,283.3 L320,285.6 L323,287.6 L330.6,290.5 L338,293.2 L346.3,295.8 L354,298.3 L362,300.07 L364.2,300.85 L366.4,302.35 L368.6,302.51 L370.8,303.02 L373,302.29 L375.2,304.09 L377.4,308.8 L379.6,301.96 L381.8,303.55 L384,302.17 L386.2,305.7 L388.4,305.92 L390.6,303.77 L392.8,303.79 L395,305.57 L397.2,303.47 L399.4,303.42 L401.6,303.5 L403.8,304.14 L406,305.24 L406,305.24 C406.57,305 408.52,304.71 409.4,303.8 C410.28,302.89 410.77,302.1 411.3,299.8 C411.83,297.5 412.17,293.33 412.6,290 C413.03,286.67 413.35,283.13 413.9,279.8 C414.45,276.47 415.23,273.32 415.9,270 C416.57,266.68 417.32,263.27 417.9,259.9 C418.48,256.53 418.68,253.02 419.4,249.8 C420.12,246.58 421.12,243.68 422.2,240.6 C423.28,237.52 424.67,233.93 425.9,231.3 C427.13,228.67 428.2,226.8 429.6,224.8 C431,222.8 432.45,221.15 434.3,219.3 C436.15,217.45 438.4,215.4 440.7,213.7 C443,212 445.62,210.48 448.1,209.1 C450.58,207.72 452.82,206.63 455.6,205.4 C458.38,204.17 461.72,202.78 464.8,201.7 C467.88,200.62 471.02,199.77 474.1,198.9 C477.18,198.03 479.92,197.47 483.3,196.5 C486.68,195.53 492.55,193.67 494.4,193.1" fill="none" stroke="#1a1a1a" stroke-width="1.3" stroke-linejoin="round" stroke-linecap="round"/>
<path d="M317.8,283.3 L320,285.6 L323,287.6 L330.6,290.5 L338,293.2 L346.3,295.8 L354,298.3 L362,300.6 L364.2,300.54 L366.4,303.09 L368.6,303.34 L370.8,302.01 L373,303.17 L375.2,301.87 L377.4,302.31 L379.6,302.75 L381.8,304.45 L384,302.8 L386.2,305.85 L388.4,302.59 L390.6,303.23 L392.8,302.95 L395,305.58 L397.2,304.09 L399.4,304.53 L401.6,304.02 L403.8,305.24 L406,304.4 L408.2,303.69 L410.4,304.53 L410.4,304.53 C410.83,304.41 412.25,304.59 413,303.8 C413.75,303.01 414.37,302.1 414.9,299.8 C415.43,297.5 415.77,293.33 416.2,290 C416.63,286.67 416.95,283.13 417.5,279.8 C418.05,276.47 418.83,273.32 419.5,270 C420.17,266.68 421.17,261.58 421.5,259.9 L422.9,252.3 L425.2,249.6 L426.7,247.2 L428.2,243.5 L428.7,240.8 L428.7,235.6 L430.8,232.4 L432.5,229.2 L433.2,222.5 L433.2,222.5 C433.32,221.92 432.7,220.55 433.9,219 C435.1,217.45 438.08,214.93 440.4,213.2 C442.72,211.47 445.32,209.98 447.8,208.6 C450.28,207.22 452.52,206.13 455.3,204.9 C458.08,203.67 461.42,202.28 464.5,201.2 C467.58,200.12 470.7,199.27 473.8,198.4 C476.9,197.53 479.67,196.95 483.1,196 C486.53,195.05 492.52,193.25 494.4,192.7" fill="none" stroke="#ff1a1a" stroke-width="1.3" stroke-linejoin="round" stroke-linecap="round"/>
<path d="M317.8,283.3 L320,285.6 L323,287.6 L330.6,290.5 L338,293.2 L346.3,295.8 L354,298.3 L362,300.08 L364.2,301.05 L366.4,300.06 L368.6,302.53 L370.8,302.55 L373,302.11 L375.2,303.4 L377.4,303.61 L379.6,301.82 L381.8,303.84 L384,304.34 L386.2,304.13 L388.4,305.67 L390.6,305.29 L392.8,304.05 L395,303.52 L397.2,303.18 L399.4,305.82 L401.6,305.4 L403.8,305.14 L406,304.54 L408.2,304.8 L408.2,304.8 C408.62,304.64 409.97,304.63 410.7,303.8 C411.43,302.97 412.07,302.1 412.6,299.8 C413.13,297.5 413.47,293.33 413.9,290 C414.33,286.67 414.65,283.13 415.2,279.8 C415.75,276.47 416.53,273.32 417.2,270 C417.87,266.68 418.62,263.27 419.2,259.9 C419.78,256.53 419.99,253.02 420.7,249.8 C421.41,246.58 422.42,243.68 423.47,240.61 C424.52,237.54 425.81,233.99 426.99,231.37 C428.17,228.75 429.2,226.9 430.56,224.91 C431.93,222.92 433.34,221.29 435.16,219.45 C436.97,217.61 439.18,215.57 441.45,213.88 C443.72,212.19 446.3,210.69 448.76,209.31 C451.21,207.94 453.43,206.86 456.19,205.64 C458.95,204.41 462.25,203.04 465.31,201.96 C468.38,200.89 471.49,200.04 474.56,199.18 C477.63,198.32 480.35,197.76 483.71,196.8 C487.08,195.84 492.91,193.98 494.75,193.42" fill="none" stroke="#11e011" stroke-width="1.3" stroke-linejoin="round" stroke-linecap="round"/>
<path d="M317.8,283.3 L320,285.6 L323,287.6 L330.6,290.5 L338,293.2 L346.3,295.8 L354,298.3 L362,301.07 L364.2,300.86 L366.4,302.15 L368.6,302.62 L370.8,301.05 L373,300.94 L375.2,303.34 L377.4,301.93 L379.6,303.11 L381.8,305.2 L384,305.3 L386.2,302.61 L388.4,302.64 L390.6,303.34 L392.8,305.76 L395,302.75 L397.2,303.55 L399.4,303.15 L401.6,303.27 L403.8,309 L406,303.56 L408.2,304.46 L410.4,305.69 L410.4,305.69 C410.63,305.37 411.25,304.78 411.8,303.8 C412.35,302.82 413.17,302.1 413.7,299.8 C414.23,297.5 414.57,293.33 415,290 C415.43,286.67 415.75,283.13 416.3,279.8 C416.85,276.47 417.63,273.32 418.3,270 C418.97,266.68 419.72,263.27 420.3,259.9 C420.88,256.53 421.09,253.01 421.8,249.8 C422.51,246.59 423.53,243.68 424.55,240.62 C425.57,237.55 426.78,234.03 427.91,231.43 C429.05,228.83 430.05,226.98 431.38,225.01 C432.71,223.03 434.1,221.4 435.88,219.57 C437.67,217.74 439.84,215.72 442.08,214.04 C444.32,212.36 446.88,210.86 449.32,209.49 C451.75,208.13 453.94,207.06 456.68,205.84 C459.42,204.62 462.7,203.25 465.75,202.18 C468.79,201.11 471.9,200.27 474.95,199.42 C478,198.56 480.71,198 484.06,197.05 C487.41,196.09 493.21,194.25 495.04,193.69" fill="none" stroke="#2222ff" stroke-width="1.3" stroke-linejoin="round" stroke-linecap="round"/>
<path d="M317.8,283.3 L320,285.6 L323,287.6 L330.6,290.5 L338,293.2 L346.3,295.8 L354,298.3 L362,301.05 L364.2,301.36 L366.4,302.2 L368.6,300.69 L370.8,301.49 L373,303.36 L375.2,304.12 L377.4,301.53 L379.6,302.29 L381.8,305.22 L384,302.44 L386.2,304.65 L388.4,303.58 L390.6,311.5 L392.8,305.89 L395,304.87 L397.2,304.18 L399.4,303.96 L401.6,305.14 L403.8,305.21 L406,304.42 L408.2,304.67 L410.4,304.94 L410.4,304.94 C410.78,304.75 412,304.66 412.7,303.8 C413.4,302.94 414.07,302.1 414.6,299.8 C415.13,297.5 415.47,293.33 415.9,290 C416.33,286.67 416.65,283.13 417.2,279.8 C417.75,276.47 418.53,273.32 419.2,270 C419.87,266.68 420.62,263.27 421.2,259.9 C421.78,256.53 421.99,253.01 422.7,249.8 C423.41,246.59 424.44,243.68 425.43,240.62 C426.43,237.57 427.57,234.07 428.67,231.48 C429.77,228.89 430.75,227.05 432.05,225.08 C433.35,223.12 434.72,221.49 436.48,219.67 C438.23,217.86 440.38,215.84 442.6,214.17 C444.81,212.49 447.36,211 449.77,209.64 C452.19,208.28 454.37,207.22 457.09,206 C459.81,204.79 463.08,203.43 466.11,202.36 C469.13,201.3 472.23,200.46 475.27,199.61 C478.31,198.76 481.01,198.2 484.35,197.25 C487.68,196.3 493.46,194.46 495.28,193.91" fill="none" stroke="#ff9a1a" stroke-width="1.3" stroke-linejoin="round" stroke-linecap="round"/>
</g>
<text x="50.2" y="11.15" font-size="8.3" text-anchor="end">10<tspan font-size="5.5" dx="0.5" dy="-5.1" stroke-width="0.1" fill="#222">-3</tspan></text>
<text x="50.2" y="25.01" font-size="8.3" text-anchor="end">10<tspan font-size="5.5" dx="0.5" dy="-5.1" stroke-width="0.1" fill="#222">-4</tspan></text>
<text x="50.2" y="38.87" font-size="8.3" text-anchor="end">10<tspan font-size="5.5" dx="0.5" dy="-5.1" stroke-width="0.1" fill="#222">-5</tspan></text>
<text x="50.2" y="52.73" font-size="8.3" text-anchor="end">10<tspan font-size="5.5" dx="0.5" dy="-5.1" stroke-width="0.1" fill="#222">-6</tspan></text>
<text x="50.2" y="66.59" font-size="8.3" text-anchor="end">10<tspan font-size="5.5" dx="0.5" dy="-5.1" stroke-width="0.1" fill="#222">-7</tspan></text>
<text x="50.2" y="80.45" font-size="8.3" text-anchor="end">10<tspan font-size="5.5" dx="0.5" dy="-5.1" stroke-width="0.1" fill="#222">-8</tspan></text>
<text x="50.2" y="94.31" font-size="8.3" text-anchor="end">10<tspan font-size="5.5" dx="0.5" dy="-5.1" stroke-width="0.1" fill="#222">-9</tspan></text>
<text x="50.2" y="108.17" font-size="8.3" text-anchor="end">10<tspan font-size="5.5" dx="0.5" dy="-5.1" stroke-width="0.1" fill="#222">-10</tspan></text>
<text x="50.2" y="122.03" font-size="8.3" text-anchor="end">10<tspan font-size="5.5" dx="0.5" dy="-5.1" stroke-width="0.1" fill="#222">-11</tspan></text>
<text x="50.2" y="135.89" font-size="8.3" text-anchor="end">10<tspan font-size="5.5" dx="0.5" dy="-5.1" stroke-width="0.1" fill="#222">-12</tspan></text>
<text x="50.2" y="149.75" font-size="8.3" text-anchor="end">10<tspan font-size="5.5" dx="0.5" dy="-5.1" stroke-width="0.1" fill="#222">-13</tspan></text>
<text x="232" y="149.4" font-size="8.9" text-anchor="start">0.0</text>
<text x="232" y="114.75" font-size="8.9" text-anchor="start">1.0x10</text>
<text x="256.8" y="110.45" font-size="5.4" text-anchor="start">-2</text>
<text x="232" y="80.1" font-size="8.9" text-anchor="start">2.0x10</text>
<text x="256.8" y="75.8" font-size="5.4" text-anchor="start">-2</text>
<text x="232" y="45.45" font-size="8.9" text-anchor="start">3.0x10</text>
<text x="256.8" y="41.15" font-size="5.4" text-anchor="start">-2</text>
<text x="232" y="10.8" font-size="8.9" text-anchor="start">4.0x10</text>
<text x="256.8" y="6.5" font-size="5.4" text-anchor="start">-2</text>
<text x="52.8" y="156.8" font-size="9" text-anchor="middle">-20</text>
<text x="96.85" y="156.8" font-size="9" text-anchor="middle">-10</text>
<text x="140.9" y="156.8" font-size="9" text-anchor="middle">0</text>
<text x="184.95" y="156.8" font-size="9" text-anchor="middle">10</text>
<text x="229" y="156.8" font-size="9" text-anchor="middle">20</text>
<text x="315.8" y="13.05" font-size="8.3" text-anchor="end">10<tspan font-size="5.5" dx="0.5" dy="-5.1" stroke-width="0.1" fill="#222">-3</tspan></text>
<text x="315.8" y="26.87" font-size="8.3" text-anchor="end">10<tspan font-size="5.5" dx="0.5" dy="-5.1" stroke-width="0.1" fill="#222">-4</tspan></text>
<text x="315.8" y="40.69" font-size="8.3" text-anchor="end">10<tspan font-size="5.5" dx="0.5" dy="-5.1" stroke-width="0.1" fill="#222">-5</tspan></text>
<text x="315.8" y="54.51" font-size="8.3" text-anchor="end">10<tspan font-size="5.5" dx="0.5" dy="-5.1" stroke-width="0.1" fill="#222">-6</tspan></text>
<text x="315.8" y="68.33" font-size="8.3" text-anchor="end">10<tspan font-size="5.5" dx="0.5" dy="-5.1" stroke-width="0.1" fill="#222">-7</tspan></text>
<text x="315.8" y="82.15" font-size="8.3" text-anchor="end">10<tspan font-size="5.5" dx="0.5" dy="-5.1" stroke-width="0.1" fill="#222">-8</tspan></text>
<text x="315.8" y="95.97" font-size="8.3" text-anchor="end">10<tspan font-size="5.5" dx="0.5" dy="-5.1" stroke-width="0.1" fill="#222">-9</tspan></text>
<text x="315.8" y="109.79" font-size="8.3" text-anchor="end">10<tspan font-size="5.5" dx="0.5" dy="-5.1" stroke-width="0.1" fill="#222">-10</tspan></text>
<text x="315.8" y="123.61" font-size="8.3" text-anchor="end">10<tspan font-size="5.5" dx="0.5" dy="-5.1" stroke-width="0.1" fill="#222">-11</tspan></text>
<text x="315.8" y="137.43" font-size="8.3" text-anchor="end">10<tspan font-size="5.5" dx="0.5" dy="-5.1" stroke-width="0.1" fill="#222">-12</tspan></text>
<text x="315.8" y="151.25" font-size="8.3" text-anchor="end">10<tspan font-size="5.5" dx="0.5" dy="-5.1" stroke-width="0.1" fill="#222">-13</tspan></text>
<text x="498.2" y="150.9" font-size="8.9" text-anchor="start">0.0</text>
<text x="498.2" y="116.35" font-size="8.9" text-anchor="start">1.0x10</text>
<text x="523" y="112.05" font-size="5.4" text-anchor="start">-2</text>
<text x="498.2" y="81.8" font-size="8.9" text-anchor="start">2.0x10</text>
<text x="523" y="77.5" font-size="5.4" text-anchor="start">-2</text>
<text x="498.2" y="47.25" font-size="8.9" text-anchor="start">3.0x10</text>
<text x="523" y="42.95" font-size="5.4" text-anchor="start">-2</text>
<text x="498.2" y="12.7" font-size="8.9" text-anchor="start">4.0x10</text>
<text x="523" y="8.4" font-size="5.4" text-anchor="start">-2</text>
<text x="318.4" y="158.3" font-size="9" text-anchor="middle">-20</text>
<text x="362.6" y="158.3" font-size="9" text-anchor="middle">-10</text>
<text x="406.8" y="158.3" font-size="9" text-anchor="middle">0</text>
<text x="451" y="158.3" font-size="9" text-anchor="middle">10</text>
<text x="495.2" y="158.3" font-size="9" text-anchor="middle">20</text>
<text x="48.6" y="185.85" font-size="8.3" text-anchor="end">10<tspan font-size="5.5" dx="0.5" dy="-5.1" stroke-width="0.1" fill="#222">-3</tspan></text>
<text x="48.6" y="199.7" font-size="8.3" text-anchor="end">10<tspan font-size="5.5" dx="0.5" dy="-5.1" stroke-width="0.1" fill="#222">-4</tspan></text>
<text x="48.6" y="213.55" font-size="8.3" text-anchor="end">10<tspan font-size="5.5" dx="0.5" dy="-5.1" stroke-width="0.1" fill="#222">-5</tspan></text>
<text x="48.6" y="227.4" font-size="8.3" text-anchor="end">10<tspan font-size="5.5" dx="0.5" dy="-5.1" stroke-width="0.1" fill="#222">-6</tspan></text>
<text x="48.6" y="241.25" font-size="8.3" text-anchor="end">10<tspan font-size="5.5" dx="0.5" dy="-5.1" stroke-width="0.1" fill="#222">-7</tspan></text>
<text x="48.6" y="255.1" font-size="8.3" text-anchor="end">10<tspan font-size="5.5" dx="0.5" dy="-5.1" stroke-width="0.1" fill="#222">-8</tspan></text>
<text x="48.6" y="268.95" font-size="8.3" text-anchor="end">10<tspan font-size="5.5" dx="0.5" dy="-5.1" stroke-width="0.1" fill="#222">-9</tspan></text>
<text x="48.6" y="282.8" font-size="8.3" text-anchor="end">10<tspan font-size="5.5" dx="0.5" dy="-5.1" stroke-width="0.1" fill="#222">-10</tspan></text>
<text x="48.6" y="296.65" font-size="8.3" text-anchor="end">10<tspan font-size="5.5" dx="0.5" dy="-5.1" stroke-width="0.1" fill="#222">-11</tspan></text>
<text x="48.6" y="310.5" font-size="8.3" text-anchor="end">10<tspan font-size="5.5" dx="0.5" dy="-5.1" stroke-width="0.1" fill="#222">-12</tspan></text>
<text x="48.6" y="324.35" font-size="8.3" text-anchor="end">10<tspan font-size="5.5" dx="0.5" dy="-5.1" stroke-width="0.1" fill="#222">-13</tspan></text>
<text x="230.8" y="324" font-size="8.9" text-anchor="start">0.0</text>
<text x="230.8" y="289.38" font-size="8.9" text-anchor="start">1.0x10</text>
<text x="255.6" y="285.07" font-size="5.4" text-anchor="start">-2</text>
<text x="230.8" y="254.75" font-size="8.9" text-anchor="start">2.0x10</text>
<text x="255.6" y="250.45" font-size="5.4" text-anchor="start">-2</text>
<text x="230.8" y="220.12" font-size="8.9" text-anchor="start">3.0x10</text>
<text x="255.6" y="215.83" font-size="5.4" text-anchor="start">-2</text>
<text x="230.8" y="185.5" font-size="8.9" text-anchor="start">4.0x10</text>
<text x="255.6" y="181.2" font-size="5.4" text-anchor="start">-2</text>
<text x="51.2" y="331.4" font-size="9" text-anchor="middle">-20</text>
<text x="95.35" y="331.4" font-size="9" text-anchor="middle">-10</text>
<text x="139.5" y="331.4" font-size="9" text-anchor="middle">0</text>
<text x="183.65" y="331.4" font-size="9" text-anchor="middle">10</text>
<text x="227.8" y="331.4" font-size="9" text-anchor="middle">20</text>
<text x="315.2" y="187.15" font-size="8.3" text-anchor="end">10<tspan font-size="5.5" dx="0.5" dy="-5.1" stroke-width="0.1" fill="#222">-3</tspan></text>
<text x="315.2" y="201.04" font-size="8.3" text-anchor="end">10<tspan font-size="5.5" dx="0.5" dy="-5.1" stroke-width="0.1" fill="#222">-4</tspan></text>
<text x="315.2" y="214.93" font-size="8.3" text-anchor="end">10<tspan font-size="5.5" dx="0.5" dy="-5.1" stroke-width="0.1" fill="#222">-5</tspan></text>
<text x="315.2" y="228.82" font-size="8.3" text-anchor="end">10<tspan font-size="5.5" dx="0.5" dy="-5.1" stroke-width="0.1" fill="#222">-6</tspan></text>
<text x="315.2" y="242.71" font-size="8.3" text-anchor="end">10<tspan font-size="5.5" dx="0.5" dy="-5.1" stroke-width="0.1" fill="#222">-7</tspan></text>
<text x="315.2" y="256.6" font-size="8.3" text-anchor="end">10<tspan font-size="5.5" dx="0.5" dy="-5.1" stroke-width="0.1" fill="#222">-8</tspan></text>
<text x="315.2" y="270.49" font-size="8.3" text-anchor="end">10<tspan font-size="5.5" dx="0.5" dy="-5.1" stroke-width="0.1" fill="#222">-9</tspan></text>
<text x="315.2" y="284.38" font-size="8.3" text-anchor="end">10<tspan font-size="5.5" dx="0.5" dy="-5.1" stroke-width="0.1" fill="#222">-10</tspan></text>
<text x="315.2" y="298.27" font-size="8.3" text-anchor="end">10<tspan font-size="5.5" dx="0.5" dy="-5.1" stroke-width="0.1" fill="#222">-11</tspan></text>
<text x="315.2" y="312.16" font-size="8.3" text-anchor="end">10<tspan font-size="5.5" dx="0.5" dy="-5.1" stroke-width="0.1" fill="#222">-12</tspan></text>
<text x="315.2" y="326.05" font-size="8.3" text-anchor="end">10<tspan font-size="5.5" dx="0.5" dy="-5.1" stroke-width="0.1" fill="#222">-13</tspan></text>
<text x="497.4" y="325.7" font-size="8.9" text-anchor="start">0.0</text>
<text x="497.4" y="290.98" font-size="8.9" text-anchor="start">1.0x10</text>
<text x="522.2" y="286.68" font-size="5.4" text-anchor="start">-2</text>
<text x="497.4" y="256.25" font-size="8.9" text-anchor="start">2.0x10</text>
<text x="522.2" y="251.95" font-size="5.4" text-anchor="start">-2</text>
<text x="497.4" y="221.53" font-size="8.9" text-anchor="start">3.0x10</text>
<text x="522.2" y="217.23" font-size="5.4" text-anchor="start">-2</text>
<text x="497.4" y="186.8" font-size="8.9" text-anchor="start">4.0x10</text>
<text x="522.2" y="182.5" font-size="5.4" text-anchor="start">-2</text>
<text x="317.8" y="333.1" font-size="9" text-anchor="middle">-20</text>
<text x="361.95" y="333.1" font-size="9" text-anchor="middle">-10</text>
<text x="406.1" y="333.1" font-size="9" text-anchor="middle">0</text>
<text x="450.25" y="333.1" font-size="9" text-anchor="middle">10</text>
<text x="494.4" y="333.1" font-size="9" text-anchor="middle">20</text>
<text x="2.3" y="19.6" font-size="19.5" transform="translate(2.3,19.6) scale(1.04,1) translate(-2.3,-19.6)">(a)</text>
<text x="2.0" y="191.0" font-size="19.5" transform="translate(2,191) scale(1.04,1) translate(-2,-191)">(b)</text>
<text x="116" y="21.6" font-size="11.2" text-anchor="start">NBS -10V</text>
<text x="382.4" y="23.8" font-size="11.2" text-anchor="start">PBS +10V</text>
<text x="115.6" y="197.2" font-size="11.2" text-anchor="start">NBS -10V</text>
<text x="381" y="198.2" font-size="11.2" text-anchor="start">PBS +10V</text>
<text x="59.4" y="37" font-size="9.4" text-anchor="start">Single Nd: IZO TFT</text>
<text x="325" y="37.4" font-size="9.4" text-anchor="start">Single Nd: IZO TFT</text>
<text x="58" y="209.6" font-size="9.1">Nd: IZO/Al<tspan font-size="5.6" dy="3.7">2</tspan><tspan dy="-3.7">O</tspan><tspan font-size="5.6" dy="3.7">3</tspan><tspan dy="-3.7"> TFT</tspan></text>
<text x="324.4" y="210.8" font-size="9.1">Nd: IZO/Al<tspan font-size="5.6" dy="3.7">2</tspan><tspan dy="-3.7">O</tspan><tspan font-size="5.6" dy="3.7">3</tspan><tspan dy="-3.7"> TFT</tspan></text>
<text x="59.4" y="48.2" font-size="9.1" text-anchor="start">V</text>
<text x="66.1" y="52.1" font-size="5.4" text-anchor="start">D</text>
<text x="70" y="48.2" font-size="9.1" text-anchor="start">=20.1V</text>
<text x="325" y="48.6" font-size="9.1" text-anchor="start">V</text>
<text x="331.7" y="52.5" font-size="5.4" text-anchor="start">D</text>
<text x="335.6" y="48.6" font-size="9.1" text-anchor="start">=20.1V</text>
<text x="58" y="222.9" font-size="9.1" text-anchor="start">V</text>
<text x="64.7" y="226.8" font-size="5.4" text-anchor="start">D</text>
<text x="68.6" y="222.9" font-size="9.1" text-anchor="start">=20.1V</text>
<text x="324.4" y="224.6" font-size="9.1" text-anchor="start">V</text>
<text x="331.1" y="228.5" font-size="5.4" text-anchor="start">D</text>
<text x="335" y="224.6" font-size="9.1" text-anchor="start">=20.1V</text>
<path d="M60.6,58 H82" stroke="#333333" stroke-width="1.6"/>
<path d="M70.9,58 h0.8" stroke="#000" stroke-width="1.6"/>
<text x="85" y="61.3" font-size="9.4" text-anchor="start">0s</text>
<path d="M60.6,70.1 H82" stroke="#ff2020" stroke-width="1.6"/>
<path d="M70.9,70.1 h0.8" stroke="#ff2020" stroke-width="1.6"/>
<text x="85" y="73.4" font-size="9.4" text-anchor="start">900s</text>
<path d="M60.6,82.2 H82" stroke="#22ee22" stroke-width="1.6"/>
<path d="M70.9,82.2 h0.8" stroke="#22ee22" stroke-width="1.6"/>
<text x="85" y="85.5" font-size="9.4" text-anchor="start">1800s</text>
<path d="M60.6,94.4 H82" stroke="#3333ff" stroke-width="1.6"/>
<path d="M70.9,94.4 h0.8" stroke="#3333ff" stroke-width="1.6"/>
<text x="85" y="97.7" font-size="9.4" text-anchor="start">2700s</text>
<path d="M60.6,106.6 H82" stroke="#ff9a2a" stroke-width="1.6"/>
<path d="M70.9,106.6 h0.8" stroke="#ff9a2a" stroke-width="1.6"/>
<text x="85" y="109.9" font-size="9.4" text-anchor="start">3600s</text>
<path d="M326.4,59.2 H348" stroke="#333333" stroke-width="1.6"/>
<path d="M336.8,59.2 h0.8" stroke="#000" stroke-width="1.6"/>
<text x="351" y="62.5" font-size="9.4" text-anchor="start">0s</text>
<path d="M326.4,71.2 H348" stroke="#ff2020" stroke-width="1.6"/>
<path d="M336.8,71.2 h0.8" stroke="#ff2020" stroke-width="1.6"/>
<text x="351" y="74.5" font-size="9.4" text-anchor="start">900s</text>
<path d="M326.4,83.2 H348" stroke="#22ee22" stroke-width="1.6"/>
<path d="M336.8,83.2 h0.8" stroke="#22ee22" stroke-width="1.6"/>
<text x="351" y="86.5" font-size="9.4" text-anchor="start">1800s</text>
<path d="M326.4,95.2 H348" stroke="#3333ff" stroke-width="1.6"/>
<path d="M336.8,95.2 h0.8" stroke="#3333ff" stroke-width="1.6"/>
<text x="351" y="98.5" font-size="9.4" text-anchor="start">2700s</text>
<path d="M326.4,107.6 H348" stroke="#ff9a2a" stroke-width="1.6"/>
<path d="M336.8,107.6 h0.8" stroke="#ff9a2a" stroke-width="1.6"/>
<text x="351" y="110.9" font-size="9.4" text-anchor="start">3600s</text>
<path d="M59,232.6 H80.4" stroke="#333333" stroke-width="1.6"/>
<path d="M69.3,232.6 h0.8" stroke="#000" stroke-width="1.6"/>
<text x="83" y="235.9" font-size="9.4" text-anchor="start">0s</text>
<path d="M59,244.6 H80.4" stroke="#ff2020" stroke-width="1.6"/>
<path d="M69.3,244.6 h0.8" stroke="#ff2020" stroke-width="1.6"/>
<text x="83" y="247.9" font-size="9.4" text-anchor="start">900s</text>
<path d="M59,256.6 H80.4" stroke="#22ee22" stroke-width="1.6"/>
<path d="M69.3,256.6 h0.8" stroke="#22ee22" stroke-width="1.6"/>
<text x="83" y="259.9" font-size="9.4" text-anchor="start">1800s</text>
<path d="M59,268.6 H80.4" stroke="#3333ff" stroke-width="1.6"/>
<path d="M69.3,268.6 h0.8" stroke="#3333ff" stroke-width="1.6"/>
<text x="83" y="271.9" font-size="9.4" text-anchor="start">2700s</text>
<path d="M59,280.8 H80.4" stroke="#ff9a2a" stroke-width="1.6"/>
<path d="M69.3,280.8 h0.8" stroke="#ff9a2a" stroke-width="1.6"/>
<text x="83" y="284.1" font-size="9.4" text-anchor="start">3600s</text>
<path d="M326,234 H347" stroke="#333333" stroke-width="1.6"/>
<path d="M336.1,234 h0.8" stroke="#000" stroke-width="1.6"/>
<text x="350" y="237.3" font-size="9.4" text-anchor="start">0s</text>
<path d="M326,246 H347" stroke="#ff2020" stroke-width="1.6"/>
<path d="M336.1,246 h0.8" stroke="#ff2020" stroke-width="1.6"/>
<text x="350" y="249.3" font-size="9.4" text-anchor="start">900s</text>
<path d="M326,258.2 H347" stroke="#22ee22" stroke-width="1.6"/>
<path d="M336.1,258.2 h0.8" stroke="#22ee22" stroke-width="1.6"/>
<text x="350" y="261.5" font-size="9.4" text-anchor="start">1800s</text>
<path d="M326,270.4 H347" stroke="#3333ff" stroke-width="1.6"/>
<path d="M336.1,270.4 h0.8" stroke="#3333ff" stroke-width="1.6"/>
<text x="350" y="273.7" font-size="9.4" text-anchor="start">2700s</text>
<path d="M326,282.8 H347" stroke="#ff9a2a" stroke-width="1.6"/>
<path d="M336.1,282.8 h0.8" stroke="#ff9a2a" stroke-width="1.6"/>
<text x="350" y="286.1" font-size="9.4" text-anchor="start">3600s</text>
<text x="127.2" y="166.6" font-size="12.2" text-anchor="start">V</text>
<text x="136" y="172" font-size="7.0" text-anchor="start">G</text>
<text x="144.6" y="166.6" font-size="12.2" text-anchor="start">(V)</text>
<text x="392.9" y="168.5" font-size="12.2" text-anchor="start">V</text>
<text x="401.7" y="173.9" font-size="7.0" text-anchor="start">G</text>
<text x="410.3" y="168.5" font-size="12.2" text-anchor="start">(V)</text>
<text x="126.1" y="341.5" font-size="12.2" text-anchor="start">V</text>
<text x="134.9" y="346.9" font-size="7.0" text-anchor="start">G</text>
<text x="143.5" y="341.5" font-size="12.2" text-anchor="start">(V)</text>
<text x="392" y="342.8" font-size="12.2" text-anchor="start">V</text>
<text x="400.8" y="348.2" font-size="7.0" text-anchor="start">G</text>
<text x="409.4" y="342.8" font-size="12.2" text-anchor="start">(V)</text>
<g transform="translate(27,92.2) rotate(-90)">
<text x="0" y="0" font-size="12.0">I</text>
<text x="5.0" y="5.1" font-size="7.4">D</text>
<text x="14.2" y="0" font-size="12.0">(A)</text>
</g>
<g transform="translate(292.7,94.1) rotate(-90)">
<text x="0" y="0" font-size="12.0">I</text>
<text x="5.0" y="5.1" font-size="7.4">D</text>
<text x="14.2" y="0" font-size="12.0">(A)</text>
</g>
<g transform="translate(25.7,266.8) rotate(-90)">
<text x="0" y="0" font-size="12.0">I</text>
<text x="5.0" y="5.1" font-size="7.4">D</text>
<text x="14.2" y="0" font-size="12.0">(A)</text>
</g>
<g transform="translate(291.6,268.6) rotate(-90)">
<text x="0" y="0" font-size="12.0">I</text>
<text x="5.0" y="5.1" font-size="7.4">D</text>
<text x="14.2" y="0" font-size="12.0">(A)</text>
</g>
<g transform="translate(277,99.8) rotate(-90)">
<text x="0" y="0" font-size="12.0">I</text>
<text x="5.0" y="5.1" font-size="7.4">D</text>
<text x="10.4" y="-6.0" font-size="7.6">1/2</text>
<text x="23.0" y="0" font-size="12.0">(A</text>
<text x="38.8" y="-6.0" font-size="7.6">1/2</text>
<text x="48.0" y="0" font-size="12.0">)</text>
</g>
<g transform="translate(542.5,101.8) rotate(-90)">
<text x="0" y="0" font-size="12.0">I</text>
<text x="5.0" y="5.1" font-size="7.4">D</text>
<text x="10.4" y="-6.0" font-size="7.6">1/2</text>
<text x="23.0" y="0" font-size="12.0">(A</text>
<text x="38.8" y="-6.0" font-size="7.6">1/2</text>
<text x="48.0" y="0" font-size="12.0">)</text>
</g>
<g transform="translate(275.6,274.6) rotate(-90)">
<text x="0" y="0" font-size="12.0">I</text>
<text x="5.0" y="5.1" font-size="7.4">D</text>
<text x="10.4" y="-6.0" font-size="7.6">1/2</text>
<text x="23.0" y="0" font-size="12.0">(A</text>
<text x="38.8" y="-6.0" font-size="7.6">1/2</text>
<text x="48.0" y="0" font-size="12.0">)</text>
</g>
<g transform="translate(541.8,276.2) rotate(-90)">
<text x="0" y="0" font-size="12.0">I</text>
<text x="5.0" y="5.1" font-size="7.4">D</text>
<text x="10.4" y="-6.0" font-size="7.6">1/2</text>
<text x="23.0" y="0" font-size="12.0">(A</text>
<text x="38.8" y="-6.0" font-size="7.6">1/2</text>
<text x="48.0" y="0" font-size="12.0">)</text>
</g>
<ellipse cx="145.15" cy="124.2" rx="7.25" ry="17" fill="none" stroke="#000" stroke-width="1.65"/>
<path d="M144.2,107.25 H131.8" stroke="#000" stroke-width="1.45"/>
<path d="M128.8,107.25 L133.4,105.15 L132.7,107.25 L133.4,109.35 Z" fill="#000"/>
<ellipse cx="212.4" cy="133.35" rx="3.6" ry="12.45" fill="none" stroke="#000" stroke-width="1.65"/>
<path d="M210.4,120.9 H222.6" stroke="#000" stroke-width="1.45"/>
<path d="M225.6,120.9 L221,118.8 L221.7,120.9 L221,123 Z" fill="#000"/>
<ellipse cx="409.3" cy="124" rx="7.45" ry="17.2" fill="none" stroke="#000" stroke-width="1.65"/>
<path d="M408.3,107 H396.1" stroke="#000" stroke-width="1.45"/>
<path d="M393.1,107 L397.7,104.9 L397,107 L397.7,109.1 Z" fill="#000"/>
<ellipse cx="474.1" cy="134.1" rx="4" ry="11.6" fill="none" stroke="#000" stroke-width="1.65"/>
<path d="M471.8,122.5 H484.2" stroke="#000" stroke-width="1.45"/>
<path d="M487.2,122.5 L482.6,120.4 L483.3,122.5 L482.6,124.6 Z" fill="#000"/>
<ellipse cx="123.15" cy="298.9" rx="7.5" ry="17.2" fill="none" stroke="#000" stroke-width="1.65"/>
<path d="M122.2,281.7 H110.2" stroke="#000" stroke-width="1.45"/>
<path d="M107.2,281.7 L111.8,279.6 L111.1,281.7 L111.8,283.8 Z" fill="#000"/>
<ellipse cx="186.9" cy="301" rx="3.8" ry="11.8" fill="none" stroke="#000" stroke-width="1.65"/>
<path d="M184.6,289 H196.9" stroke="#000" stroke-width="1.45"/>
<path d="M199.9,289 L195.3,286.9 L196,289 L195.3,291.1 Z" fill="#000"/>
<ellipse cx="393.55" cy="301.5" rx="7.4" ry="17.1" fill="none" stroke="#000" stroke-width="1.65"/>
<path d="M392.6,284.5 H381.4" stroke="#000" stroke-width="1.45"/>
<path d="M378.4,284.5 L383,282.4 L382.3,284.5 L383,286.6 Z" fill="#000"/>
<ellipse cx="452.05" cy="302.5" rx="4" ry="12" fill="none" stroke="#000" stroke-width="1.65"/>
<path d="M449.8,290.5 H462.8" stroke="#000" stroke-width="1.45"/>
<path d="M465.8,290.5 L461.2,288.4 L461.9,290.5 L461.2,292.6 Z" fill="#000"/>
</svg>
</body></html>
